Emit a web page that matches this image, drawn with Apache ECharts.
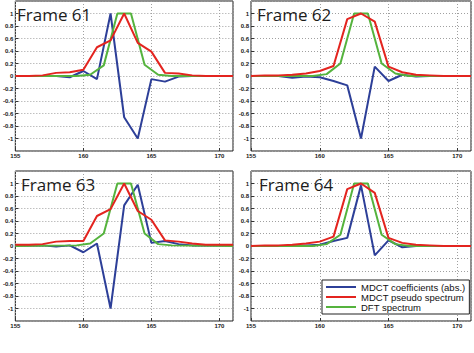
<!DOCTYPE html>
<html>
<head>
<meta charset="utf-8">
<script src="https://cdn.jsdelivr.net/npm/echarts@6/dist/echarts.min.js"></script>
<style>html,body{margin:0;padding:0;background:#fff;}#c{width:474px;height:353px;}</style>
</head>
<body>
<div id="c"></div>
<script>
// ---- data ----
const xBins = [155,156,157,158,159,160,161,162,163,164,165,166,167,168,169,170,171];
const dftX  = [155,159.5,160.5,161.5,162.5,163.5,164.5,165.5,166.5,171];

const mdct61   = [0,0,0,0,-0.02,0.08,-0.05,1.0,-0.66,-1.0,-0.05,-0.09,-0.01,0,0,0,0];
const pseudo61 = [0,0,0.01,0.05,0.06,0.1,0.46,0.57,1.0,0.53,0.39,0.05,0.04,0.01,0,0,0];
const dft61    = [0,0,0.02,0.17,1,1,0.18,0.02,0,0];

const mdct62   = [0,0,0,-0.03,-0.01,-0.02,-0.08,-0.15,-1.0,0.15,-0.08,0.02,-0.01,0,0,0,0];
const pseudo62 = [0,0.01,0.01,0.02,0.04,0.08,0.16,0.91,1.0,0.87,0.15,0.06,0.02,0.01,0,0,0];
const dft62    = [0,0,0.03,0.2,1,1,0.2,0.04,0,0];

const mdct63   = [0.01,0.01,0.01,-0.01,0.01,-0.1,0.04,-1.0,0.65,0.98,0.05,0.08,0.03,0.01,0.01,0.01,0.01];
const pseudo63 = [0.02,0.02,0.03,0.07,0.08,0.08,0.48,0.59,1.0,0.56,0.42,0.09,0.07,0.04,0.02,0.02,0.02];
const dft63    = [0,0.01,0.04,0.2,1,1,0.2,0.03,0.01,0];

const mdct64   = [0,0,0,0,0.01,0.02,0.08,0.13,0.97,-0.15,0.09,-0.02,0,0,0,0,0];
const pseudo64 = [0,0.01,0.01,0.02,0.04,0.07,0.15,0.91,1.0,0.85,0.13,0.05,0.02,0.01,0,0,0];
const dft64    = [0,0,0.03,0.18,1,1,0.18,0.03,0,0];

const frameLabels = ['Frame 61','Frame 62','Frame 63','Frame 64'];
const seriesNames = ['MDCT coefficients (abs.)','MDCT pseudo spectrum','DFT spectrum'];
const xTicks = [155,160,165,170];

// ---- chart ----
const panels = [
  {mdct: mdct61, pseudo: pseudo61, dft: dft61},
  {mdct: mdct62, pseudo: pseudo62, dft: dft62},
  {mdct: mdct63, pseudo: pseudo63, dft: dft63},
  {mdct: mdct64, pseudo: pseudo64, dft: dft64}
];
const zip = (xs, ys) => xs.map((x, i) => [x, ys[i]]);
const colors = {mdct: '#2d3f98', pseudo: '#e3241f', dft: '#55b33d'};

const grids = [
  {left: 12, top: 1, width: 221, height: 150},
  {left: 251, top: 1, width: 220, height: 150},
  {left: 12, top: 171, width: 221, height: 150},
  {left: 251, top: 171, width: 220, height: 150}
].map(g => Object.assign(g, {show: true, borderColor: '#1a1a1a', borderWidth: 1, backgroundColor: '#fff'}));

const labelStyle = {fontSize: 6, fontWeight: 'bold', color: '#1a1a1a', fontFamily: 'Arial, Liberation Sans, sans-serif'};

const xAxes = grids.map((g, i) => ({
  type: 'value', gridIndex: i, min: 155, max: 171, interval: 5, position: 'bottom',
  axisLine: {show: false, onZero: false},
  axisTick: {show: true, inside: true, length: 3, lineStyle: {color: '#333'}},
  axisLabel: Object.assign({margin: 2, showMaxLabel: false,
    formatter: v => xTicks.includes(Math.round(v)) ? String(Math.round(v)) : ''}, labelStyle),
  splitLine: {show: true, lineStyle: {color: '#a0a0a0', type: [1, 2], width: 1}}
}));

const yAxes = grids.map((g, i) => ({
  type: 'value', gridIndex: i, min: -1.2, max: 1.2, interval: 0.2, position: 'left',
  axisLine: {show: false, onZero: false},
  axisTick: {show: true, inside: true, length: 3, lineStyle: {color: '#333'}},
  axisLabel: Object.assign({margin: 2, showMinLabel: false, showMaxLabel: false,
    formatter: v => Math.abs(Math.abs(v) - 1.2) < 1e-6 ? '' : String(+(+v).toFixed(1))}, labelStyle),
  splitLine: {show: true, lineStyle: {color: '#a0a0a0', type: [1, 2], width: 1}}
}));

const series = [];
panels.forEach((p, i) => {
  const mk = (name, data, color) => ({
    name, type: 'line', xAxisIndex: i, yAxisIndex: i, data,
    showSymbol: false, symbol: 'none', silent: true,
    lineStyle: {color, width: 2}, itemStyle: {color}
  });
  series.push(mk(seriesNames[0], zip(xBins, p.mdct), colors.mdct));
  series.push(mk(seriesNames[2], zip(dftX, p.dft), colors.dft));
  series.push(mk(seriesNames[1], zip(xBins, p.pseudo), colors.pseudo));
});

const labelPos = [[17, 16], [257, 16], [21, 186], [259, 186]];
const graphic = frameLabels.map((t, i) => ({
  type: 'text', left: labelPos[i][0], top: labelPos[i][1] - 10, z: 100,
  style: {text: t, fontSize: 17, fontFamily: 'Open Sans, Noto Sans, sans-serif', fill: '#1c1c1c'}
}));

const chart = echarts.init(document.getElementById('c'), null, {renderer: 'svg'});
chart.setOption({
  animation: false,
  backgroundColor: '#fff',
  grid: grids,
  xAxis: xAxes,
  yAxis: yAxes,
  series,
  graphic,
  legend: {
    data: seriesNames, orient: 'vertical', left: 322, top: 280,
    icon: 'rect', itemWidth: 30, itemHeight: 2, itemGap: 0,
    padding: [2, 4, 2, 4], backgroundColor: '#fff', borderColor: '#222', borderWidth: 1,
    borderRadius: 0, selectedMode: false, z: 50,
    textStyle: {fontSize: 9.5, color: '#111', fontFamily: 'Arial, Liberation Sans, sans-serif'}
  }
});
</script>
</body>
</html>
